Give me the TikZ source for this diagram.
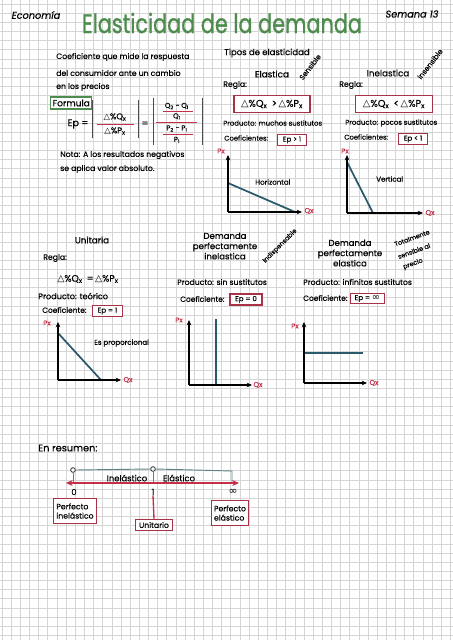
\documentclass[tikz,border=0pt]{standalone}
\usepackage{fontspec}
\setmainfont[FakeBold=0.4]{Poppins}
\newfontfamily\titlefont[FakeBold=1.2]{Poppins}
\newfontfamily\symf{DejaVu Sans}
\usetikzlibrary{arrows.meta}
\definecolor{gridc}{RGB}{214,214,214}
\definecolor{boxred}{RGB}{168,50,70}
\definecolor{axred}{RGB}{196,48,72}
\definecolor{tealc}{RGB}{42,90,106}
\definecolor{bracketc}{RGB}{95,130,135}
\definecolor{tgreen}{RGB}{78,140,78}
\newcommand\dlt{{\symf\char"25B3}}
\newcommand\infy{{\symf\char"221E}}
\newcommand\fsz[1]{\fontsize{#1pt}{\dimexpr #1pt*6/5\relax}\selectfont}
\begin{document}
\begin{tikzpicture}[x=0.75pt,y=-0.75pt,
  txt/.style={font=\fsz{5.8}, inner sep=0pt, anchor=west},
  ctxt/.style={font=\fsz{6.4}, inner sep=0pt, align=center},
  rot/.style={font=\fsz{5.4}, inner sep=0pt, align=center},
  rbox/.style={draw=boxred, line width=0.8pt, fill=white, inner sep=1.5pt, font=\fsz{5.3}},
  bigbox/.style={draw=boxred, line width=1pt, fill=white, inner sep=2pt, font=\fsz{7.3}},
  axis/.style={line width=1.1pt, -{Stealth[length=4pt,width=3.5pt]}},
  dem/.style={draw=tealc, line width=1.3pt},
  axl/.style={text=axred, font=\fsz{5.3}, inner sep=0pt},
  bar/.style={line width=0.6pt, draw=black!70},
  fbar/.style={line width=0.6pt, draw=axred},
  ftxt/.style={font=\fsz{6.3}, inner sep=0pt},
  sbox/.style={draw=boxred, line width=0.9pt, fill=white, inner sep=2pt, font=\fsz{5.8}, align=left}]
\useasboundingbox (0,0) rectangle (453,640);
\fill[white] (0,0) rectangle (453,640);
\foreach \i in {0,...,49} {
  \draw[gridc, line width=0.4pt] (\i*9.15+2,0) -- (\i*9.15+2,640);
}
\foreach \j in {0,...,70} {
  \draw[gridc, line width=0.4pt] (0,\j*9.15+4) -- (453,\j*9.15+4);
}

% header
\node[font=\itshape\fsz{7.3}, inner sep=0pt] (eco) at (36,15) {Economía};
\node[font=\titlefont\fsz{20}, text=tgreen, inner sep=0pt, xscale=0.78] (title) at (222,23) {Elasticidad de la demanda};
\node[font=\itshape\fsz{7.3}, inner sep=0pt] (sem) at (412,14) {Semana 13};

% definition
\node[txt] (d1) at (56,57) {Coeficiente que mide la respuesta};
\node[txt] (d2) at (56,73) {del consumidor ante un cambio};
\node[txt] (d3) at (56,87) {en los precios};
\node[draw=tgreen, line width=0.9pt, fill=white, inner sep=1.5pt, anchor=west, font=\fsz{6.8}, minimum height=9pt] (formula) at (50,103) {Formula};
\node[ftxt, font=\fsz{7.2}] (ep) at (78,124) {Ep =};
\draw[bar] (92,100) -- (92,138);
\node[ftxt] (n1) at (115,117) {\dlt\%Q\textsubscript{x}};
\draw[fbar] (97,124) -- (134,124);
\node[ftxt] (n2) at (115,131) {\dlt\%P\textsubscript{x}};
\draw[bar] (138,100) -- (138,138);
\node[ftxt, font=\fsz{7.2}] (eq) at (145,124) {=};
\draw[bar] (153,98) -- (153,145);
\node[ftxt, font=\fsz{5.2}] (q21) at (177,106) {Q\textsubscript{2} - Q\textsubscript{1}};
\draw[fbar] (163,111) -- (193,111);
\node[ftxt, font=\fsz{5.2}] (q1) at (177,116.5) {Q\textsubscript{1}};
\draw[fbar] (156,122) -- (197,122);
\node[ftxt, font=\fsz{5.2}] (p21) at (177,128.5) {P\textsubscript{2} - P\textsubscript{1}};
\draw[fbar] (163,134) -- (193,134);
\node[ftxt, font=\fsz{5.2}] (p1) at (177,140) {P\textsubscript{1}};
\draw[bar] (202,98) -- (202,145);
\node[txt] (nota1) at (60,155) {Nota: A los resultados negativos};
\node[txt] (nota2) at (60,169) {se aplica valor absoluto.};

% Tipos de elasticidad
\node[txt, font=\fsz{6.4}] (tipos) at (224,53) {Tipos de elasticidad};
% Elastica
\node[ctxt, font=\fsz{6.6}] (el) at (272,74) {Elastica};
\node[rot, rotate=52] (sens) at (310,67) {Sensible};
\node[txt] (reg1) at (223,85) {Regla:};
\node[bigbox, minimum width=57pt, minimum height=12.5pt] (r1) at (272,104) {\dlt\%Q\textsubscript{x} \,>\,\dlt\%P\textsubscript{x}};
\node[txt, font=\fsz{5.2}] (prod1) at (223,123) {Producto: muchos sustitutos};
\node[txt, font=\fsz{5.1}] (coef1) at (224,138) {Coeficientes:};
\node[rbox, minimum width=22pt, minimum height=7.5pt] (e1) at (292,140) {Ep > 1};
\coordinate (o1) at (228,212);
\coordinate (y1) at (228,155);
\coordinate (x1) at (302,212);
\draw[dem] (228,183) -- (295,212);
\draw[axis] (o1) -- (y1);
\draw[axis] (o1) -- (x1);
\node[axl] (px1) at (221,151) {Px};
\node[axl] (qx1) at (309,211) {Qx};
\node[txt, font=\fsz{5.3}] (hor) at (255,182) {Horizontal};

% Inelastica
\node[ctxt, font=\fsz{6.6}] (inel) at (388,73) {Inelastica};
\node[rot, rotate=52] (insens) at (430,64) {insensible};
\node[txt] (reg2) at (339,85) {Regla:};
\node[bigbox, minimum width=58pt, minimum height=12.5pt] (r2) at (394,104) {\dlt\%Q\textsubscript{x} \,<\,\dlt\%P\textsubscript{x}};
\node[txt, font=\fsz{5.2}] (prod2) at (345,123) {Producto: pocos sustitutos};
\node[txt, font=\fsz{5.1}] (coef2) at (344,137) {Coeficientes:};
\node[rbox, minimum width=22pt, minimum height=7.5pt] (e2) at (413,139) {Ep < 1};
\coordinate (o2) at (347,213);
\coordinate (y2) at (347,155);
\coordinate (x2) at (423,213);
\draw[dem] (347,162) -- (373,213);
\draw[axis] (o2) -- (y2);
\draw[axis] (o2) -- (x2);
\node[axl] (px2) at (345,151) {Px};
\node[axl] (qx2) at (430,213) {Qx};
\node[txt, font=\fsz{5.3}] (vert) at (376,179) {Vertical};

% Unitaria
\node[ctxt, font=\fsz{6.6}] (uni) at (92,240) {Unitaria};
\node[txt] (reg3) at (43,258) {Regla:};
\node[ftxt, font=\fsz{7}, anchor=west] (r3) at (57,279) {\dlt\%Q\textsubscript{x} \,=\,\dlt\%P\textsubscript{x}};
\node[txt, font=\fsz{6.1}] (prod3) at (38,296) {Producto: teórico};
\node[txt, font=\fsz{5.6}] (coef3) at (42,310) {Coeficiente:};
\node[rbox, minimum width=23pt, minimum height=8pt] (e3) at (107.5,311) {Ep = 1};
\coordinate (o3) at (58,380);
\coordinate (y3) at (58,322);
\coordinate (x3) at (121,380);
\draw[dem] (58,333) -- (101,380);
\draw[axis] (o3) -- (y3);
\draw[axis] (o3) -- (x3);
\node[axl] (px3) at (47,323) {Px};
\node[axl] (qx3) at (128,380) {Qx};
\node[txt, font=\fsz{5.3}] (prop) at (94,343) {Es proporcional};

% Perfectamente inelastica
\node[ctxt] (pin) at (225,246) {Demanda\\perfectamente\\inelastica};
\node[rot, rotate=45, font=\fsz{4.8}] (indis) at (280,246) {Indispensable};
\node[txt, font=\fsz{5.8}] (prod4) at (177,282) {Producto: sin sustitutos};
\node[txt, font=\fsz{5.6}] (coef4) at (180,299) {Coeficiente:};
\node[rbox, minimum width=24pt, minimum height=7.5pt] (e4) at (246,299.5) {Ep = 0};
\coordinate (o4) at (189,385);
\coordinate (y4) at (189,320);
\coordinate (x4) at (252,385);
\draw[dem] (216,319) -- (216,385);
\draw[axis] (o4) -- (y4);
\draw[axis] (o4) -- (x4);
\node[axl] (px4) at (179,320) {Px};
\node[axl] (qx4) at (258,385) {Qx};

% Perfectamente elastica
\node[ctxt] (pel) at (350,253) {Demanda\\perfectamente\\elastica};
\node[rot, rotate=20, font=\fsz{4.8}] (tot1) at (412,238) {Totalmente};
\node[rot, rotate=20, font=\fsz{4.8}] (tot2) at (414,251) {sensible al};
\node[rot, rotate=20, font=\fsz{4.8}] (tot3) at (413,264) {precio};
\node[txt, font=\fsz{5.8}] (prod5) at (303,282) {Producto: infinitos sustitutos};
\node[txt, font=\fsz{5.6}] (coef5) at (303,298) {Coeficiente:};
\node[rbox, minimum width=26pt, minimum height=7.5pt] (e5) at (367.5,298.5) {Ep = {\fsz{7.5}\infy}};
\coordinate (o5) at (304,383);
\coordinate (y5) at (304,322);
\coordinate (x5) at (367,383);
\draw[dem] (304,353) -- (363,353);
\draw[axis] (o5) -- (y5);
\draw[axis] (o5) -- (x5);
\node[axl] (px5) at (295,326) {Px};
\node[axl] (qx5) at (374,383) {Qx};

% En resumen
\node[txt, font=\fsz{7.3}] (res) at (38,448) {En resumen:};
\coordinate (la) at (66,483);
\coordinate (ra) at (239,483);
\node[circle, draw=black!80, fill=white, line width=0.6pt, inner sep=0pt, minimum size=3.5pt] (c0) at (73,470) {};
\node[circle, draw=black!80, fill=white, line width=0.6pt, inner sep=0pt, minimum size=3.5pt] (c1) at (153,469) {};
\coordinate (b0) at (73,483);
\coordinate (b1) at (153,483);
\coordinate (tr) at (232,471);
\coordinate (b2) at (232,483);
\draw[bracketc, line width=0.7pt] (c0.south) -- (b0);
\draw[bracketc, line width=0.7pt] (c1.south) -- (b1);
\draw[bracketc, line width=0.7pt] (c0.east) -- (c1.west);
\draw[bracketc, line width=0.7pt] (c1.east) -- (tr) -- (b2);
\draw[axred, line width=1.3pt, {Stealth[length=5pt,width=4.5pt]}-{Stealth[length=5pt,width=4.5pt]}] (la) -- (ra);
\node[ftxt, font=\fsz{6.3}] (inl) at (127,478) {Inelástico};
\node[ftxt, font=\fsz{6.3}] (ell) at (179,478) {Elástico};
\node[ftxt, font=\fsz{6.3}] (z) at (74,492) {0};
\node[ftxt, font=\fsz{6.3}] (u) at (153,492) {1};
\node[ftxt, font=\fsz{8}] (inf) at (233,492) {\infy};
\node[sbox, minimum width=30pt, minimum height=19pt] (bpi) at (75,511) {Perfecto\\inelástico};
\node[sbox, minimum width=28pt, minimum height=8pt] (bu) at (154,525) {Unitario};
\node[sbox, minimum width=26pt, minimum height=19pt] (bpe) at (230,513) {Perfecto\\elástico};
\draw[axred, line width=1pt] (u.south) -- (bu.north);
\end{tikzpicture}
\end{document}
